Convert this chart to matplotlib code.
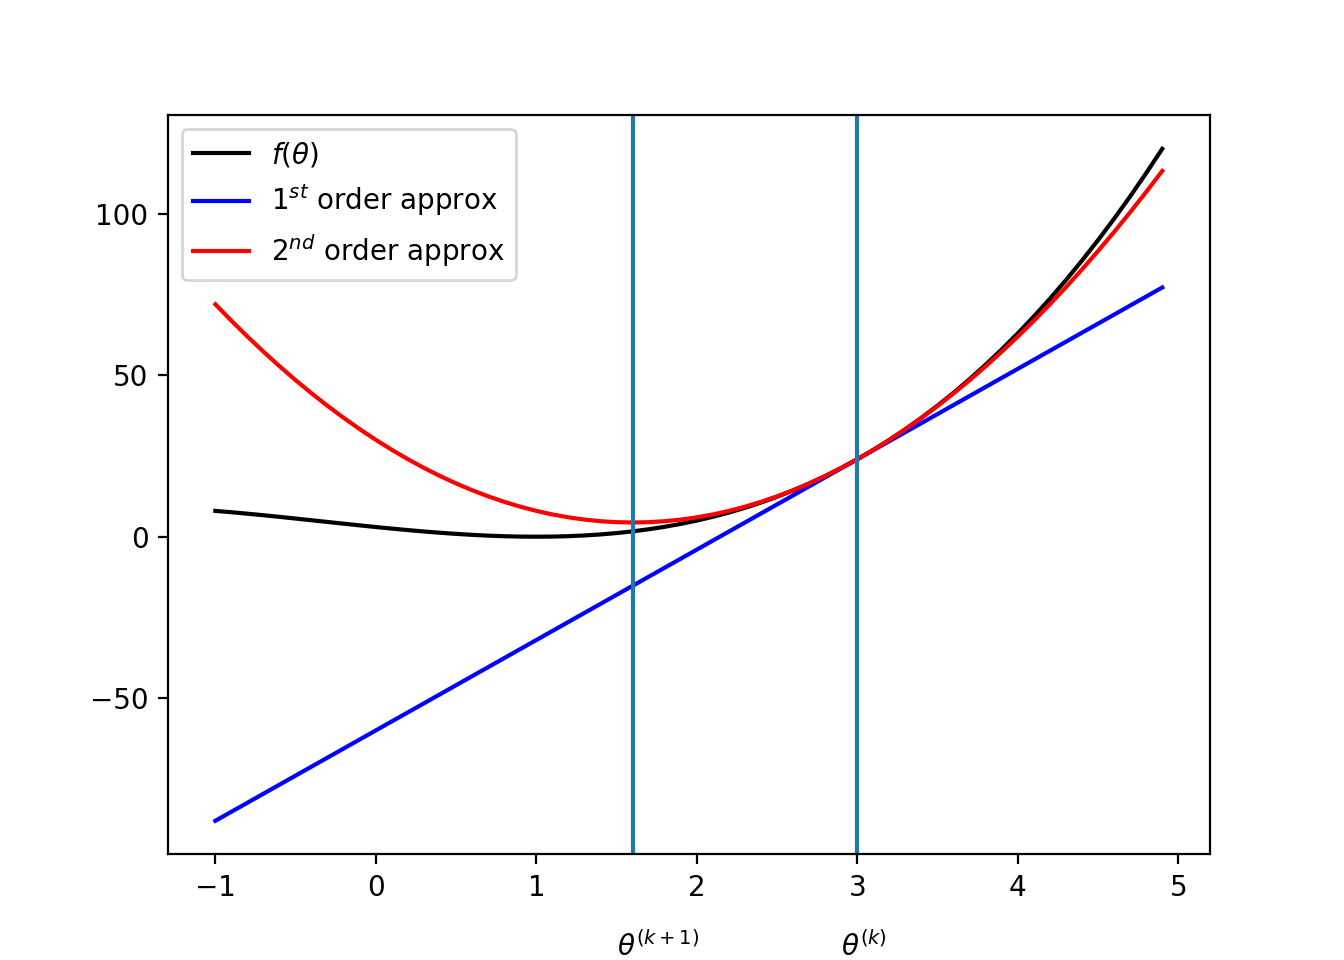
import numpy as np
import matplotlib
matplotlib.use("Agg")
import matplotlib.pyplot as plt

# f(theta) = (theta-1)^2 (theta+3); expansion point and step
theta_k = 3.0
theta_k1 = 1.6
f_k, df_k, d2f_k = 24.0, 28.0, 20.0
theta = np.arange(-1, 4.95, 0.1)

f = (theta - 1) ** 2 * (theta + 3)
first = f_k + df_k * (theta - theta_k)
second = f_k + df_k * (theta - theta_k) + 0.5 * d2f_k * (theta - theta_k) ** 2

fig, ax = plt.subplots(figsize=(6.72, 4.8), dpi=200)
ax.plot(theta, f, color="black", label=r"$f(\theta)$")
ax.plot(theta, first, color="blue", label=r"$1^{st}$ order approx")
ax.plot(theta, second, color="red", label=r"$2^{nd}$ order approx")
ax.axvline(theta_k1)
ax.axvline(theta_k)
ax.text(1.5, -130, r"$\theta^{(k+1)}$")
ax.text(2.9, -130, r"$\theta^{(k)}$")
ax.legend(loc="upper left")
fig.savefig("out.png")
